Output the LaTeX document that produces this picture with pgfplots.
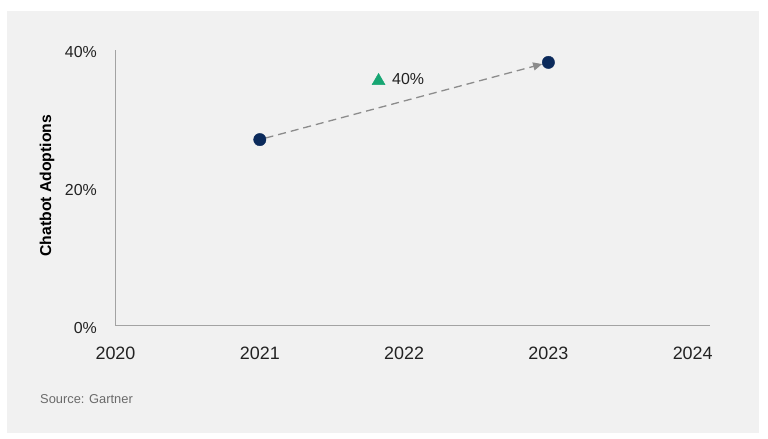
\documentclass[border=0pt]{standalone}
\usepackage{pgfplots}
\pgfplotsset{compat=1.18}
\usepackage{fontspec}
\setmainfont{Liberation Sans}
\usetikzlibrary{arrows.meta}
\definecolor{panel}{HTML}{F1F1F1}
\definecolor{navy}{HTML}{0B2A5B}
\definecolor{tri}{HTML}{17A673}
\definecolor{axisgray}{HTML}{A3A3A3}
\definecolor{dashgray}{HTML}{8C8C8C}
\definecolor{txt}{HTML}{222222}
\definecolor{srcgray}{HTML}{6A6A6A}
\begin{document}
\begin{tikzpicture}[x=1bp,y=1bp]
\fill[white] (0,0) rectangle (768,439);
\fill[panel] (7,6) rectangle (759,428);
\useasboundingbox (0,0) rectangle (768,439);
\begin{axis}[
  at={(115.5bp,113.3bp)}, anchor=south west,
  scale only axis, width=594.5bp, height=275.7bp,
  xmin=2020, xmax=2024.12, ymin=0, ymax=40,
  axis lines=left,
  axis line style={-, draw=axisgray, line width=0.9bp},
  xtick={2020,2021,2022,2023,2024},
  xticklabels={2020,2021,2022,2023,2024},
  ytick={0,20,40},
  yticklabels={0\%,20\%,40\%},
  major tick length=0pt,
  clip=false,
  xticklabel style={font=\fontsize{18}{18}\selectfont, text=txt, anchor=north, inner sep=0pt, yshift=-21bp},
  yticklabel style={font=\fontsize{16}{16}\selectfont, text=txt, anchor=east, inner sep=0pt, xshift=-18.5bp, yshift=-2bp},
  ylabel={Chatbot Adoptions},
  ylabel style={at={(axis description cs:-0.115,0.508)}, anchor=center, font=\bfseries\fontsize{15.8}{15.8}\selectfont, text=black},
]
\addplot[dashgray, line width=1.3bp, dash pattern=on 8bp off 5bp,
  -{Triangle[length=9bp,width=8bp]}, shorten <=6bp, shorten >=6.5bp]
  coordinates {(2021,27.0) (2023,38.2)};
\addplot[only marks, mark=*, mark size=6.2bp, navy, mark options={draw=navy, fill=navy}]
  coordinates {(2021,27.0) (2023,38.2)};
\addplot[only marks, mark=triangle*, mark size=7.5bp, tri, mark options={draw=tri, fill=tri}]
  coordinates {(2021.823,35.52)};
\node[anchor=west, inner sep=0pt, font=\fontsize{16}{16}\selectfont, text=txt] at (axis cs:2021.916,35.79) {40\%};
\end{axis}
\node[anchor=west, inner sep=0pt, font=\fontsize{12.9}{12.9}\selectfont, text=srcgray] at (40,39.5) {Source: Gartner};
\end{tikzpicture}
\end{document}
